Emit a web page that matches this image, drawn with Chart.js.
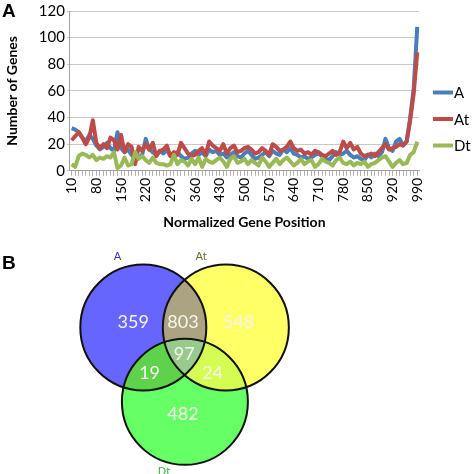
<!DOCTYPE html>
<html>
<head>
<meta charset="utf-8">
<script src="https://cdn.jsdelivr.net/npm/chart.js@4.4.1/dist/chart.umd.min.js"></script>
<style>
  body { margin: 0; background: #fff; width: 474px; height: 474px; position: relative; overflow: hidden; }
  .box { position: absolute; left: 0; width: 474px; }
  .panel { position: absolute; font: bold 19px 'Liberation Sans', Arial, sans-serif; color: #000; }
</style>
</head>
<body>
<div class="box" style="top:0;height:240px"><canvas id="lineChart"></canvas></div>
<div class="box" style="top:240px;height:234px"><canvas id="vennChart"></canvas></div>
<div class="panel" style="left:2px;top:0px">A</div>
<div class="panel" style="left:2px;top:252px">B</div>
<script>
// Panel A: normalized gene position (x) vs number of genes
const positions = [
  10, 20, 30, 40, 50, 60, 70, 80, 90, 100,
  110, 120, 130, 140, 150, 160, 170, 180, 190, 200,
  210, 220, 230, 240, 250, 260, 270, 280, 290, 300,
  310, 320, 330, 340, 350, 360, 370, 380, 390, 400,
  410, 420, 430, 440, 450, 460, 470, 480, 490, 500,
  510, 520, 530, 540, 550, 560, 570, 580, 590, 600,
  610, 620, 630, 640, 650, 660, 670, 680, 690, 700,
  710, 720, 730, 740, 750, 760, 770, 780, 790, 800,
  810, 820, 830, 840, 850, 860, 870, 880, 890, 900,
  910, 920, 930, 940, 950, 960, 970, 980, 990,
];
const shownTicks = [10, 80, 150, 220, 290, 360, 430, 500, 570, 640, 710, 780, 850, 920, 990];

const seriesNames = ['A', 'At', 'Dt'];
const seriesColors = ['#4a7ebb', '#be4b48', '#98b954'];

const genesA = [
  32, 31, 29, 25, 22, 27, 24, 19, 16, 18,
  21, 17, 15, 29, 17, 14, 16, 12, 9, 10,
  12, 24, 16, 14, 12, 15, 13, 16, 11, 12,
  14, 11, 9, 10, 13, 15, 12, 14, 11, 16,
  14, 15, 12, 13, 10, 12, 14, 11, 10, 13,
  15, 12, 9, 10, 12, 14, 11, 15, 13, 12,
  16, 14, 17, 13, 12, 10, 11, 9, 10, 12,
  13, 11, 9, 8, 11, 14, 12, 13, 15, 12,
  10, 11, 9, 8, 12, 10, 13, 11, 14, 24,
  17, 15, 22, 24, 19, 22, 40, 62, 108,
];
const genesAt = [
  23, 26, 29, 25, 20, 25, 38, 21, 17, 20,
  17, 25, 23, 16, 27, 14, 20, 18, 5, 18,
  15, 20, 16, 21, 11, 15, 16, 19, 11, 14,
  12, 21, 17, 13, 11, 12, 15, 17, 12, 22,
  19, 17, 15, 20, 13, 17, 19, 14, 15, 17,
  18, 16, 13, 14, 17, 15, 12, 20, 18, 15,
  16, 18, 22, 17, 15, 16, 13, 14, 12, 15,
  14, 12, 11, 13, 15, 12, 14, 22, 17, 21,
  16, 18, 13, 11, 12, 13, 11, 14, 17, 20,
  16, 17, 18, 20, 19, 22, 38, 58, 89,
];
const genesDt = [
  5, 3, 11, 13, 12, 10, 12, 8, 10, 9,
  11, 10, 14, 2, 4, 10, 4, 5, 14, 9,
  11, 8, 6, 10, 6, 5, 5, 4, 5, 12,
  5, 8, 7, 4, 9, 5, 10, 3, 9, 7,
  6, 8, 10, 7, 3, 9, 11, 6, 7, 9,
  5, 8, 6, 4, 10, 7, 3, 6, 9, 5,
  8, 10, 7, 4, 6, 9, 5, 7, 8, 3,
  5, 9, 7, 6, 4, 8, 10, 6, 5, 7,
  4, 6, 5, 7, 3, 5, 6, 8, 10, 11,
  7, 3, 6, 8, 5, 6, 12, 14, 22,
];

// Panel B: Venn region counts
const vennSets = ['A', 'At', 'Dt'];
const vennRegions = ['A', 'A+At', 'At', 'A+At+Dt', 'A+Dt', 'At+Dt', 'Dt'];
const vennCounts = [359, 803, 548, 97, 19, 24, 482];

// Venn layout, in circle-radius units
const vennCenters = [[0, 0], [1.31, 0], [0.66, -1.18]];
const vennNameSpots = [[-0.41, 1.11], [0.92, 1.11], [0.33, -2.29]];
const vennCountSpots = [[-0.16, 0.08], [0.63, 0.08], [1.51, 0.08], [0.65, -0.43], [0.1, -0.73], [1.1, -0.73], [0.63, -1.38]];
const vennFill = ['#6666ff', '#ffff66', '#66ff66'];
const vennNameColors = ['#3a3ab0', '#6b6b3a', '#3cb83c'];
const overlapFills = [
  { sets: [0, 1], color: '#aca383' },
  { sets: [0, 2], color: '#5fd24b' },
  { sets: [1, 2], color: '#d4fc52' },
  { sets: [0, 1, 2], color: '#98ca8e' },
];

const sideLegend = {
  id: 'sideLegend',
  afterDraw(chart) {
    const ctx = chart.ctx;
    const x0 = chart.chartArea.right + 14;
    ctx.save();
    ctx.font = '15px Lato';
    ctx.textBaseline = 'middle';
    chart.data.datasets.forEach((ds, i) => {
      const y = chart.height / 2 + (i - 1) * 26.5 - 1;
      ctx.strokeStyle = ds.borderColor;
      ctx.lineWidth = 4;
      ctx.beginPath();
      ctx.moveTo(x0, y);
      ctx.lineTo(x0 + 20, y);
      ctx.stroke();
      ctx.fillStyle = '#000';
      ctx.fillText(ds.label, x0 + 21, y + 1);
    });
    ctx.restore();
  },
};

const seriesData = [genesA, genesAt, genesDt];

new Chart(document.getElementById('lineChart'), {
  type: 'line',
  data: {
    labels: positions,
    datasets: seriesNames.map((name, i) => ({
      label: name,
      data: seriesData[i],
      borderColor: seriesColors[i],
      backgroundColor: seriesColors[i],
      borderWidth: 4,
      pointRadius: 0,
      tension: 0,
      borderJoinStyle: 'round',
      order: 2 - i,
    })),
  },
  options: {
    responsive: true,
    maintainAspectRatio: false,
    animation: false,
    events: [],
    layout: { padding: { left: 0, right: 55, top: -3, bottom: 0 } },
    plugins: { legend: { display: false }, tooltip: { enabled: false } },
    scales: {
      x: {
        offset: true,
        grid: { drawOnChartArea: false, drawTicks: true, tickLength: 5, color: '#b0b0b0' },
        border: { color: '#a0a0a0' },
        ticks: {
          autoSkip: false,
          minRotation: 90,
          maxRotation: 90,
          padding: 2,
          color: '#000',
          font: { family: 'Lato', size: 14 },
          callback: function (value) {
            const label = this.getLabelForValue(value);
            return shownTicks.includes(Number(label)) ? label : '';
          },
        },
        title: {
          display: true,
          text: 'Normalized Gene Position',
          color: '#000',
          font: { family: 'Lato', size: 14, weight: 'bold' },
          padding: { top: 10, bottom: 9 },
        },
      },
      y: {
        min: 0,
        max: 120,
        ticks: { stepSize: 20, padding: 2, color: '#000', font: { family: 'Lato', size: 15 } },
        grid: { color: '#c8c8c8', tickLength: 3 },
        border: { color: '#a0a0a0' },
        title: {
          display: true,
          text: 'Number of Genes',
          color: '#000',
          font: { family: 'Lato', size: 14, weight: 'bold' },
          padding: { top: 4, bottom: 16 },
        },
      },
    },
  },
  plugins: [sideLegend],
});

// overlaps, outlines and counts drawn on top of the three bubbles
const vennOverlay = {
  id: 'vennOverlay',
  afterDatasetsDraw(chart) {
    const { ctx, scales: { x, y } } = chart;
    const r = x.getPixelForValue(1) - x.getPixelForValue(0);
    const circles = vennCenters.map((c) => [x.getPixelForValue(c[0]), y.getPixelForValue(c[1])]);
    overlapFills.forEach((o) => {
      ctx.save();
      o.sets.forEach((k) => {
        ctx.beginPath();
        ctx.arc(circles[k][0], circles[k][1], r, 0, Math.PI * 2);
        ctx.clip();
      });
      ctx.fillStyle = o.color;
      ctx.fillRect(0, 0, chart.width, chart.height);
      ctx.restore();
    });
    ctx.save();
    ctx.strokeStyle = '#111';
    ctx.lineWidth = 2;
    circles.forEach((c) => {
      ctx.beginPath();
      ctx.arc(c[0], c[1], r, 0, Math.PI * 2);
      ctx.stroke();
    });
    ctx.textAlign = 'center';
    ctx.textBaseline = 'middle';
    ctx.font = '18px Lato';
    ctx.fillStyle = '#f6f6ea';
    vennCounts.forEach((n, i) => {
      const p = vennCountSpots[i];
      ctx.fillText(String(n), x.getPixelForValue(p[0]), y.getPixelForValue(p[1]));
    });
    ctx.font = '11px "DejaVu Sans"';
    vennSets.forEach((name, i) => {
      const p = vennNameSpots[i];
      ctx.fillStyle = vennNameColors[i];
      ctx.fillText(name, x.getPixelForValue(p[0]), y.getPixelForValue(p[1]));
    });
    ctx.restore();
  },
};

const vennChart = new Chart(document.getElementById('vennChart'), {
  type: 'bubble',
  data: {
    datasets: [{
      label: 'Venn',
      data: vennCenters.map((c) => ({ x: c[0], y: c[1], r: 0 })),
      backgroundColor: vennFill,
      borderWidth: 0,
    }],
  },
  options: {
    responsive: true,
    maintainAspectRatio: false,
    animation: false,
    events: [],
    layout: { autoPadding: false, padding: 0 },
    plugins: { legend: { display: false }, tooltip: { enabled: false } },
    scales: {
      x: { display: false, min: -2.275, max: 5.249 },
      y: { display: false, min: -2.325, max: 1.389 },
    },
  },
  plugins: [vennOverlay],
});

// bubble radius = one unit on the x scale
const unitPx = vennChart.scales.x.getPixelForValue(1) - vennChart.scales.x.getPixelForValue(0);
vennChart.data.datasets[0].data.forEach((d) => { d.r = unitPx; });
vennChart.update();
</script>
</body>
</html>
